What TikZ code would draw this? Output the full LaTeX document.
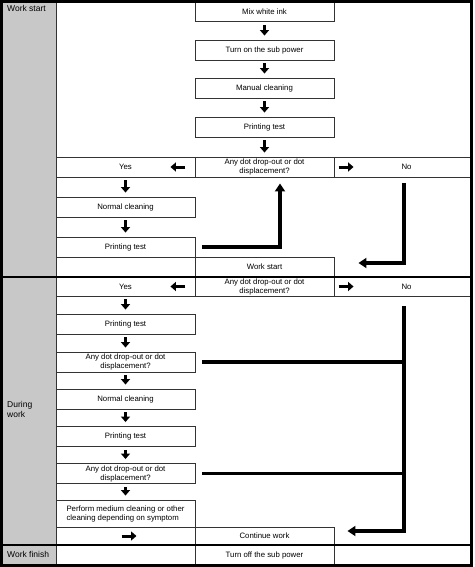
\documentclass[tikz,border=0pt]{standalone}
\usepackage{fontspec}
\setmainfont{Liberation Sans}
\usetikzlibrary{positioning, arrows.meta, calc}
\definecolor{sidegrey}{HTML}{C8C8C8}
\definecolor{rule}{HTML}{333333}

\begin{document}
\begin{tikzpicture}[x=1pt, y=-1pt,
    cell/.style={draw=rule, line width=0.9pt, minimum height=20pt, inner sep=0pt,
      align=center, font=\fontsize{7.8}{9}\selectfont},
    stepbox/.style={cell, minimum width=139pt},
    sidebox/.style={cell, minimum width=137pt},
    blk/.style={line width=3pt, -{Triangle[width=9pt,length=5.5pt]}},
    loopline/.style={line width=3.4pt},
    looparrow/.style={loopline, -{Triangle[width=10pt,length=8pt]}},
    lane/.style={anchor=north west, align=left, inner sep=0pt, font=\fontsize{8.5}{10}\selectfont}]
  \useasboundingbox (0,0) rectangle (474,567);
  % lane column
  \fill[sidegrey] (3,2) rectangle (56,565);
  \draw[rule, line width=0.9pt] (56,2) -- (56,565);
  \node[lane] (lanestart) at (7,5) {Work start};
  \node[lane] (laneduring) at (7,401) {During\\work};
  \node[lane] (lanefinish) at (7,551) {Work finish};

  % work start
  \foreach \name/\yc/\txt in {mix/11.5/Mix white ink, power/50/Turn on the sub power,
      manual/88/Manual cleaning, testA/127/Printing test}
    \node[stepbox] (\name) at (264.5,\yc) {\txt};
  \node[stepbox] (yesA) at (125.5,167) {Yes};
  \node[stepbox] (askA) at (264.5,167) {Any dot drop-out or dot\\displacement?};
  \node[sidebox] (noA) at (402.5,167) {\hspace*{8pt}No};
  \node[stepbox] (normalA) at (125.5,207) {Normal cleaning};
  \node[stepbox] (testB) at (125.5,247) {Printing test};
  \node[stepbox] (workstart) at (264.5,267) {Work start};

  % during work
  \node[stepbox, minimum height=19pt] (yesB) at (125.5,286.5) {Yes};
  \node[stepbox, minimum height=19pt] (askB) at (264.5,286.5) {Any dot drop-out or dot\\displacement?};
  \node[sidebox, minimum height=19pt] (noB) at (402.5,286.5) {\hspace*{8pt}No};
  \foreach \name/\yc/\txt in {testC/324/Printing test, askC/362/{Any dot drop-out or dot\\displacement?},
      normalB/399/Normal cleaning, testD/436.5/Printing test, askD/473.5/{Any dot drop-out or dot\\displacement?}}
    \node[stepbox] (\name) at (125.5,\yc) {\txt};
  \node[stepbox, minimum height=27pt, align=left] (medium) at (125.5,513.5)
    {Perform medium cleaning or other\\cleaning depending on symptom};
  \node[stepbox, minimum height=18pt] (contwork) at (264.5,536) {Continue work};
  \coordinate (gocell) at (125.5,536);

  % work finish
  \node[stepbox] (subpoweroff) at (264.5,555) {Turn off the sub power};

  % small arrows
  \foreach \a/\b in {mix/power, power/manual, manual/testA, testA/askA, yesA/normalA, normalA/testB,
      yesB/testC, testC/askC, askC/normalB, normalB/testD, testD/askD, askD/medium}
    \draw[blk] ([yshift=-3pt]\a.south) -- ([yshift=4pt]\b.north);
  \foreach \c in {yesA, yesB}
    \draw[blk] ([xshift=-10pt]\c.east) -- ([xshift=-25pt]\c.east);
  \foreach \c in {noA, noB}
    \draw[blk] ([xshift=5pt]\c.west) -- ([xshift=20pt]\c.west);
  \draw[blk] ([xshift=-4pt]gocell) -- ([xshift=11pt]gocell);

  % big loops
  \draw[looparrow] ([xshift=7pt]testB.east) -| ([xshift=15.5pt,yshift=-6pt]askA.south);
  \draw[looparrow] ([xshift=1.5pt,yshift=-6pt]noA.south) |- ([xshift=24pt,yshift=4pt]workstart.east);
  \coordinate (trunk) at ([xshift=1.5pt,yshift=-10pt]noB.south);
  \draw[looparrow] (trunk) |- ([xshift=13pt,yshift=5pt]contwork.east);
  \foreach \q in {askC, askD}
    \draw[loopline] ([xshift=7pt]\q.east) -- (\q.east -| trunk);

  % section rules and frame
  \draw[line width=2pt] (0,277) -- (472,277);
  \draw[line width=2pt] (0,545) -- (472,545);
  \draw[line width=2.6pt] (1.3,1.3) rectangle (471.5,565.7);
\end{tikzpicture}
\end{document}
